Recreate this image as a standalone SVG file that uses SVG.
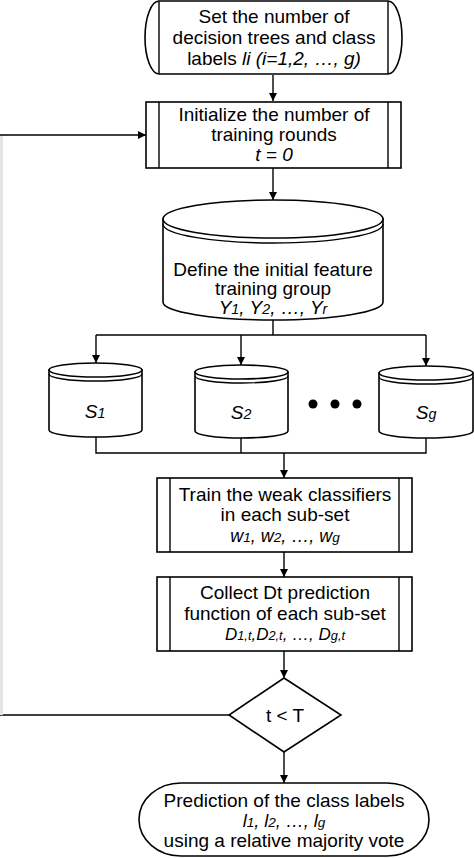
<svg xmlns="http://www.w3.org/2000/svg" width="474" height="858" viewBox="0 0 474 858">
<style>
.s{fill:#fff;stroke:#000;stroke-width:1.6}
.l{fill:none;stroke:#000;stroke-width:1.4}
text{font-family:"Liberation Sans",Arial,sans-serif;font-size:19px;fill:#000;text-anchor:middle}
.i{font-style:italic}
.sub{font-size:75%}
</style>
<defs>
<marker id="ah" viewBox="0 0 10 10" refX="10" refY="5" markerWidth="8" markerHeight="8" markerUnits="userSpaceOnUse" orient="auto">
<path d="M0,0L10,5L0,10z" fill="#000"/>
</marker>
</defs>
<rect width="474" height="858" fill="#fff"/>
<g id="connectors">
<line class="l" x1="273" y1="75" x2="273" y2="101" marker-end="url(#ah)"/>
<line class="l" x1="273" y1="168" x2="273" y2="200" marker-end="url(#ah)"/>
<polyline class="l" points="273,320 273,335"/>
<polyline class="l" points="96,335 426,335"/>
<line class="l" x1="96" y1="335" x2="96" y2="363" marker-end="url(#ah)"/>
<line class="l" x1="241" y1="335" x2="241" y2="365" marker-end="url(#ah)"/>
<line class="l" x1="426" y1="335" x2="426" y2="366" marker-end="url(#ah)"/>
<polyline class="l" points="96,437 96,453 426,453 426,438"/>
<line class="l" x1="241" y1="438" x2="241" y2="453"/>
<line class="l" x1="284" y1="453" x2="284" y2="478" marker-end="url(#ah)"/>
<line class="l" x1="284" y1="552" x2="284" y2="577" marker-end="url(#ah)"/>
<line class="l" x1="284" y1="651" x2="284" y2="678" marker-end="url(#ah)"/>
<line class="l" x1="284" y1="752" x2="284" y2="783" marker-end="url(#ah)"/>
<line class="l" x1="229" y1="715" x2="0" y2="715"/>
<line x1="1.5" y1="135" x2="1.5" y2="715" stroke="#e4e4e4" stroke-width="3"/>
<line class="l" x1="0" y1="135" x2="146" y2="135" marker-end="url(#ah)"/>
</g>
<g id="n1">
<path class="s" d="M159,1H388A14,36.5 0 0 1 388,74H159A14,36.5 0 0 1 159,1Z"/>
<line class="l" x1="159" y1="1" x2="159" y2="74"/>
<line class="l" x1="388" y1="1" x2="388" y2="74"/>
<text x="274" y="23">Set the number of</text>
<text x="274" y="44">decision trees and class</text>
<text x="274" y="65">labels <tspan class="i">li (i=1,2, …, g)</tspan></text>
</g>
<g id="n2">
<rect class="s" x="146" y="102" width="255" height="66"/>
<line class="l" x1="159" y1="102" x2="159" y2="168"/>
<line class="l" x1="388" y1="102" x2="388" y2="168"/>
<text x="274" y="121">Initialize the number of</text>
<text x="274" y="141">training rounds</text>
<text x="274" y="161" class="i">t = 0</text>
</g>
<g id="n3">
<path class="s" d="M163,219V302A110,18 0 0 0 383,302V219Z"/>
<ellipse class="s" cx="273" cy="219" rx="110" ry="19"/>
<path class="l" d="M163,224A110,19 0 0 0 383,224"/>
<text x="273" y="276">Define the initial feature</text>
<text x="273" y="295">training group</text>
<text x="273" y="314" class="i" style="font-size:19px">Y<tspan class="sub">1</tspan>, Y<tspan class="sub">2</tspan>, …, Y<tspan class="sub">r</tspan></text>
</g>
<g id="s1">
<path class="s" d="M49,370V430A46.5,7 0 0 0 142,430V370Z"/>
<ellipse class="s" cx="95.5" cy="370" rx="46.5" ry="7"/>
<path class="l" d="M49,374A46.5,7 0 0 0 142,374"/>
<text x="95" y="418" class="i">S<tspan class="sub">1</tspan></text>
</g>
<g id="s2">
<path class="s" d="M195,372V431A46.5,7 0 0 0 288,431V372Z"/>
<ellipse class="s" cx="241.5" cy="372" rx="46.5" ry="7"/>
<path class="l" d="M195,376A46.5,7 0 0 0 288,376"/>
<text x="241" y="419" class="i">S<tspan class="sub">2</tspan></text>
</g>
<g id="dots">
<circle cx="313" cy="404" r="4.5"/>
<circle cx="335" cy="404" r="4.5"/>
<circle cx="357" cy="404" r="4.5"/>
</g>
<g id="sg">
<path class="s" d="M379,373V431A47,7 0 0 0 473,431V373Z"/>
<ellipse class="s" cx="426" cy="373" rx="47" ry="7"/>
<path class="l" d="M379,377A47,7 0 0 0 473,377"/>
<text x="426" y="419" class="i">S<tspan class="sub">g</tspan></text>
</g>
<g id="n4">
<rect class="s" x="157" y="478" width="255" height="74"/>
<line class="l" x1="170" y1="478" x2="170" y2="552"/>
<line class="l" x1="399" y1="478" x2="399" y2="552"/>
<text x="285" y="501">Train the weak classifiers</text>
<text x="285" y="521">in each sub-set</text>
<text x="285" y="542" class="i" style="font-size:18px">w<tspan class="sub">1</tspan>, w<tspan class="sub">2</tspan>, …, w<tspan class="sub">g</tspan></text>
</g>
<g id="n5">
<rect class="s" x="157" y="577" width="255" height="74"/>
<line class="l" x1="170" y1="577" x2="170" y2="651"/>
<line class="l" x1="399" y1="577" x2="399" y2="651"/>
<text x="285" y="599">Collect Dt prediction</text>
<text x="285" y="620">function of each sub-set</text>
<text x="285" y="640" class="i" style="font-size:17px">D<tspan class="sub">1,t</tspan>,D<tspan class="sub">2,t</tspan>, …, D<tspan class="sub">g,t</tspan></text>
</g>
<g id="n6">
<path class="s" d="M284,678L341,715L284,752L229,715Z"/>
<text x="285" y="722">t &lt; T</text>
</g>
<g id="n7">
<rect class="s" x="139" y="783" width="290" height="73" rx="42" ry="36.5"/>
<text x="284" y="807">Prediction of the class labels</text>
<text x="284" y="827" class="i" style="font-size:18px">l<tspan class="sub">1</tspan>, l<tspan class="sub">2</tspan>, …, l<tspan class="sub">g</tspan></text>
<text x="284" y="847">using a relative majority vote</text>
</g>
</svg>
